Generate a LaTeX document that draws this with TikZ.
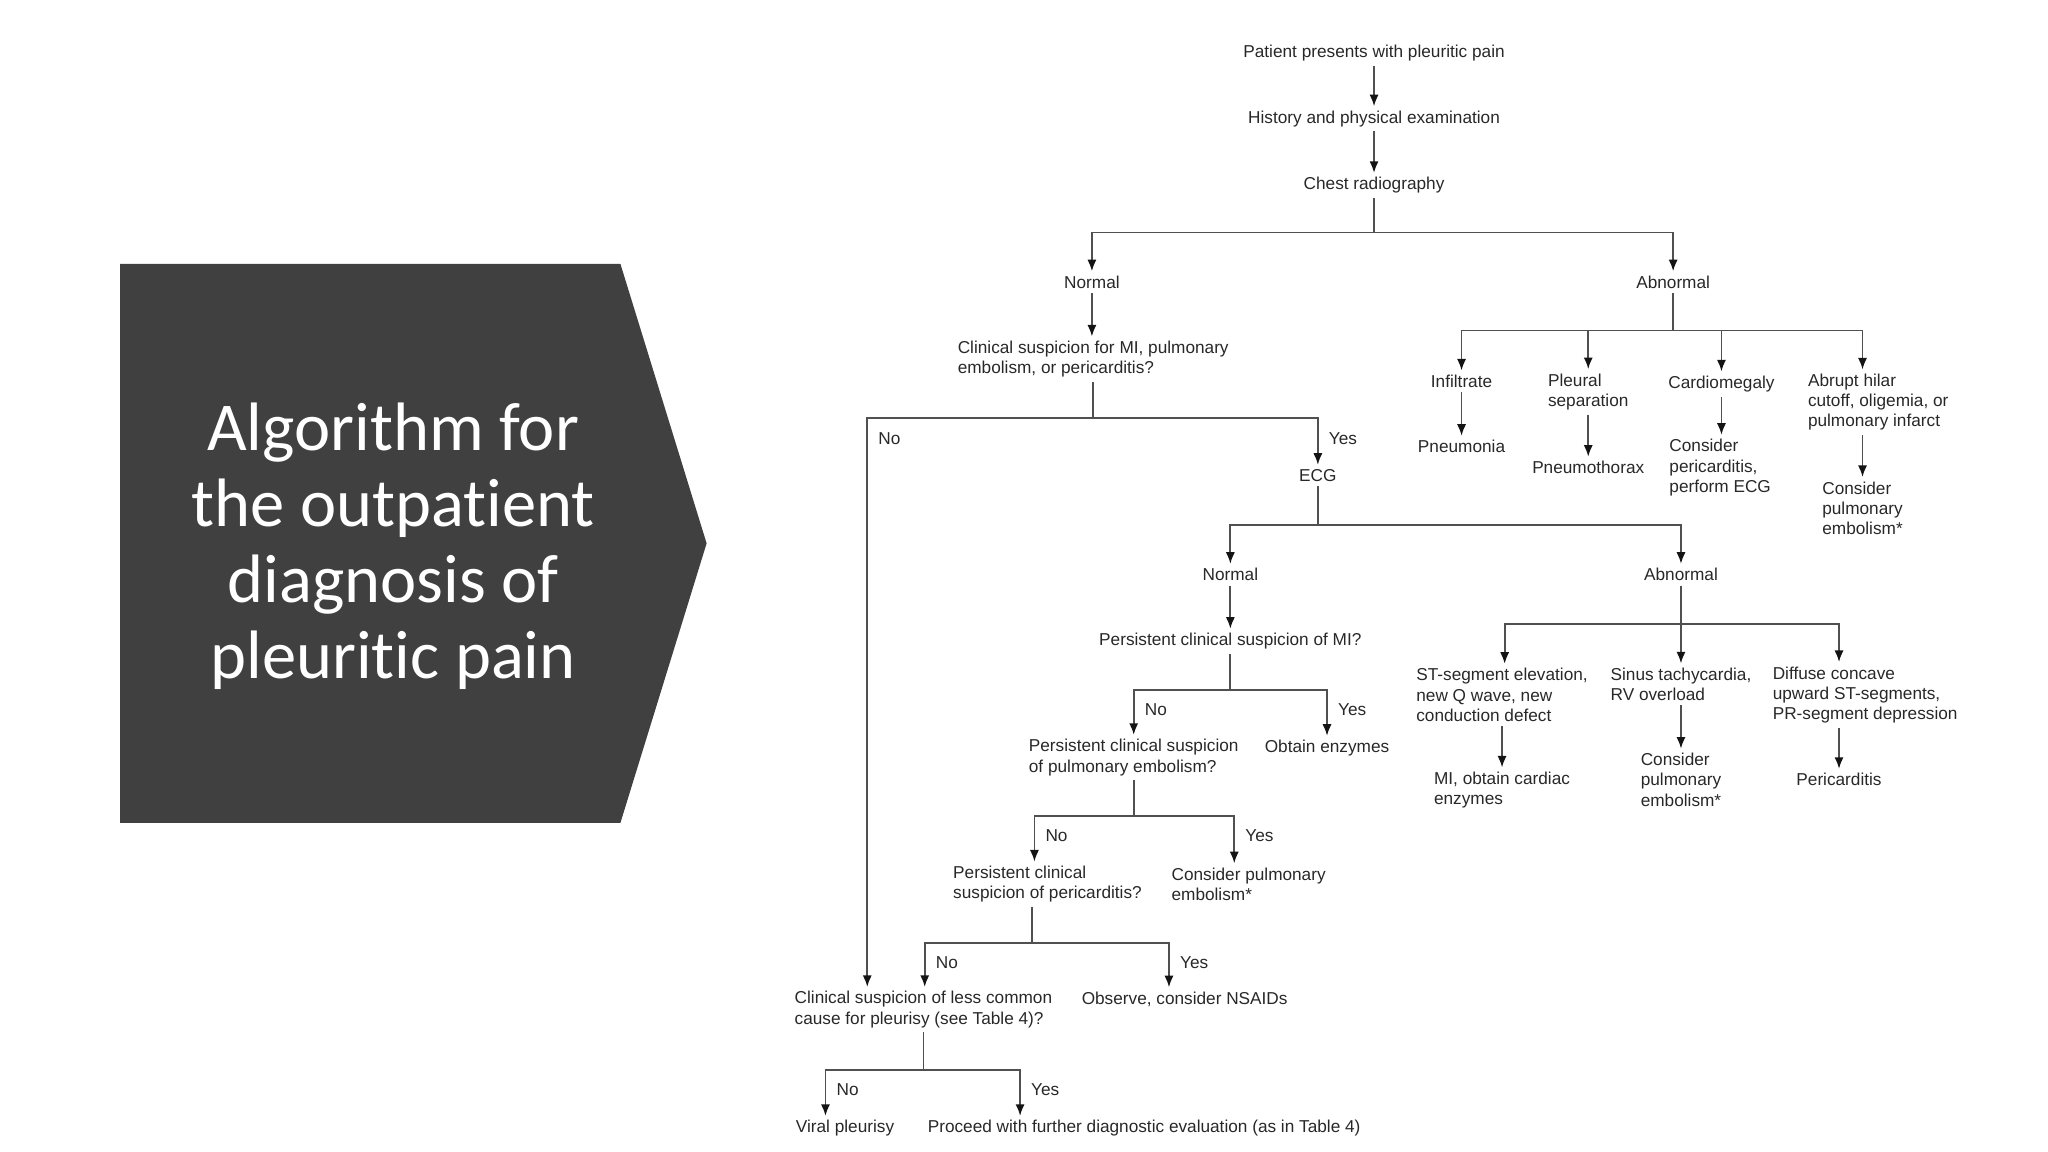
\documentclass[tikz,border=0pt]{standalone}
\usepackage{fontspec}
\usepackage{tikz}
\usetikzlibrary{arrows.meta}
\newfontfamily\chartfont{Liberation Sans}
\newfontfamily\titlefont[Ligatures=NoCommon]{Carlito}
\definecolor{panelGray}{RGB}{64,64,64}
\definecolor{chartInk}{RGB}{40,40,40}
\definecolor{lineInk}{RGB}{80,80,80}
\definecolor{tipInk}{RGB}{20,20,20}
\tikzset{
  lbl/.style={font=\chartfont\fontsize{4.9}{5.75}\selectfont, text=chartInk, inner sep=0pt, outer sep=1.3pt, align=left},
  yn/.style={lbl, anchor=west},
  titletext/.style={font=\titlefont\fontsize{19.5}{21.6}\selectfont, text=white, align=center, inner sep=0pt},
  flow/.style={-{Latex[length=3.3pt,width=2.6pt,color=tipInk]}, line width=0.5pt, draw=lineInk},
  panel/.style={fill=panelGray}
}
\begin{document}
\begin{tikzpicture}[x=0.01306cm, y=-0.01306cm]
  \useasboundingbox (0,0) rectangle (1568,882);
  % title panel
  \fill[panel] (92,202) -- (475,202) -- (541,416) -- (475,630) -- (92,630) -- cycle;
  \node[titletext] (title) at (301,418) {Algorithm for\\the outpatient\\diagnosis of\\pleuritic pain};

  % top of the chart
  \node[lbl] (pat) at (1052,41) {Patient presents with pleuritic pain};
  \node[lbl] (hist) at (1052,91) {History and physical examination};
  \node[lbl] (chest) at (1052,142) {Chest radiography};
  \node[lbl] (norm) at (836,216) {Normal};
  \node[lbl] (abn) at (1281,216) {Abnormal};
  \node[lbl] (susp) at (837,275) {Clinical suspicion for MI, pulmonary\\embolism, or pericarditis?};

  % abnormal radiograph
  \node[lbl] (infl) at (1119,292) {Infiltrate};
  \node[lbl] (pleu) at (1216,300) {Pleural\\separation};
  \node[lbl] (card) at (1318,294) {Cardiomegaly};
  \node[lbl] (abr) at (1438,308) {Abrupt hilar\\cutoff, oligemia, or\\pulmonary infarct};
  \node[lbl] (pneu) at (1119,342) {Pneumonia};
  \node[lbl] (ptx) at (1216,358) {Pneumothorax};
  \node[lbl] (cper) at (1317,358) {Consider\\pericarditis,\\perform ECG};
  \node[lbl] (cpe2) at (1426,389) {Consider\\pulmonary\\embolism*};

  % ECG branch
  \node[lbl] (ecg) at (1009,364) {ECG};
  \node[lbl] (enorm) at (942,440) {Normal};
  \node[lbl] (eabn) at (1287,440) {Abnormal};
  \node[lbl] (pmi) at (942,491) {Persistent clinical suspicion of MI?};
  \node[lbl] (ppe) at (868,580) {Persistent clinical suspicion\\of pulmonary embolism?};
  \node[lbl] (enz) at (1016,573) {Obtain enzymes};
  \node[lbl] (pper) at (802,677) {Persistent clinical\\suspicion of pericarditis?};
  \node[lbl] (cpe) at (956,677) {Consider pulmonary\\embolism*};
  \node[lbl] (less) at (707,773) {Clinical suspicion of less common\\cause for pleurisy (see Table 4)?};
  \node[lbl] (nsaid) at (907,765) {Observe, consider NSAIDs};
  \node[lbl] (viral) at (647,864) {Viral pleurisy};
  \node[lbl] (proc) at (876,864) {Proceed with further diagnostic evaluation (as in Table 4)};

  % abnormal ECG
  \node[lbl] (st) at (1150,532) {ST-segment elevation,\\new Q wave, new\\conduction defect};
  \node[lbl] (sinus) at (1287,524) {Sinus tachycardia,\\RV overload};
  \node[lbl] (diff) at (1428,532) {Diffuse concave\\upward ST-segments,\\PR-segment depression};
  \node[lbl] (mi) at (1150,605) {MI, obtain cardiac\\enzymes};
  \node[lbl] (cpe3) at (1287,597) {Consider\\pulmonary\\embolism*};
  \node[lbl] (peri) at (1408,597) {Pericarditis};

  % yes / no labels
  \node[yn] (noA) at (669,336) {No};
  \node[yn] (yesA) at (1014,336) {Yes};
  \node[yn] (noB) at (873,543) {No};
  \node[yn] (yesB) at (1021,543) {Yes};
  \node[yn] (noC) at (797,640) {No};
  \node[yn] (yesC) at (950,640) {Yes};
  \node[yn] (noD) at (713,737) {No};
  \node[yn] (yesD) at (900,737) {Yes};
  \node[yn] (noE) at (637,834) {No};
  \node[yn] (yesE) at (786,834) {Yes};

  % connectors
  \draw[flow] (pat) -- (hist);
  \draw[flow] (hist) -- (chest);
  \draw[flow] (chest) -- (chest |- 0,178) -| (norm);
  \draw[flow] (chest) -- (chest |- 0,178) -| (abn);
  \draw[flow] (norm) -- (norm |- susp.north);
  \draw[flow] (susp) -- (susp |- 0,320) -| (less.north -| 664,0);
  \draw[flow] (susp) -- (susp |- 0,320) -| (ecg);

  \draw[flow] (abn) -- (abn |- 0,253) -| (infl);
  \draw[flow] (abn) -- (abn |- 0,253) -| (pleu);
  \draw[flow] (abn) -- (abn |- 0,253) -| (card.north -| 1318,0);
  \draw[flow] (abn) -- (abn |- 0,253) -| (abr.north -| 1426,0);
  \draw[flow] (infl) -- (pneu);
  \draw[flow] (pleu) -- (ptx);
  \draw[flow] (card.south -| 1318,0) -- (cper.north -| 1318,0);
  \draw[flow] (abr.south -| cpe2) -- (cpe2);

  \draw[flow] (ecg) -- (ecg |- 0,402) -| (enorm);
  \draw[flow] (ecg) -- (ecg |- 0,402) -| (eabn);
  \draw[flow] (enorm) -- (pmi);
  \draw[flow] (pmi) -- (pmi |- 0,528) -| (ppe);
  \draw[flow] (pmi) -- (pmi |- 0,528) -| (enz);
  \draw[flow] (ppe) -- (ppe |- 0,625) -| (pper.north -| 792,0);
  \draw[flow] (ppe) -- (ppe |- 0,625) -| (cpe.north -| 945,0);
  \draw[flow] (pper.south -| 790,0) -- (790,722) -| (less.north -| 708,0);
  \draw[flow] (pper.south -| 790,0) -- (790,722) -| (nsaid.north -| 895,0);
  \draw[flow] (less) -- (less |- 0,819) -| (viral.north -| 632,0);
  \draw[flow] (less) -- (less |- 0,819) -| (proc.north -| 781,0);

  \draw[flow] (eabn) -- (eabn |- 0,478) -| (st.north -| 1152,0);
  \draw[flow] (eabn) -- (eabn |- 0,478) -| (sinus);
  \draw[flow] (eabn) -- (eabn |- 0,478) -| (diff.north -| 1408,0);
  \draw[flow] (st) -- (mi);
  \draw[flow] (sinus) -- (cpe3);
  \draw[flow] (diff.south -| peri) -- (peri);
\end{tikzpicture}
\end{document}
